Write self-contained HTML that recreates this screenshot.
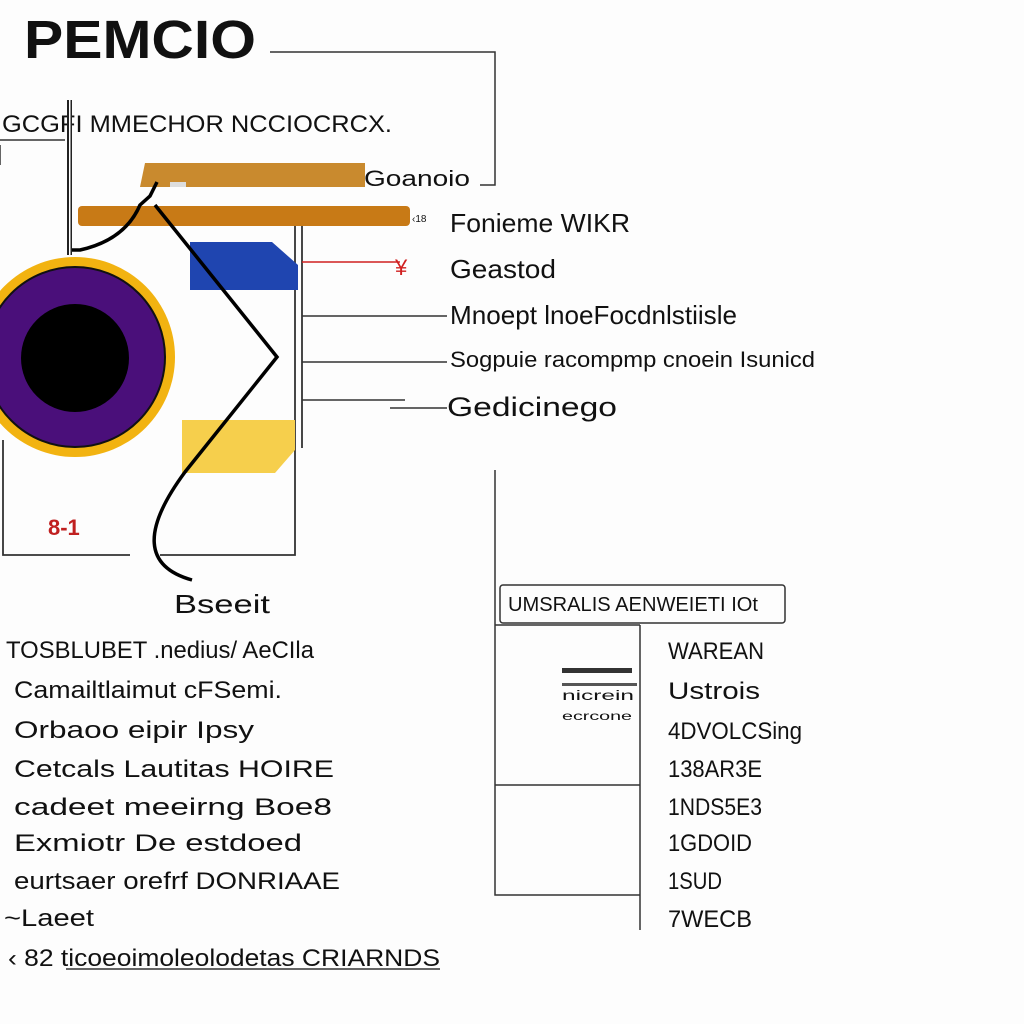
<!DOCTYPE html>
<html><head><meta charset="utf-8"><style>
html,body{margin:0;padding:0;background:#fdfdfd;}
svg{display:block}
text{font-family:"Liberation Sans",sans-serif;fill:#111}
</style></head><body>
<svg width="1024" height="1024" viewBox="0 0 1024 1024" xmlns="http://www.w3.org/2000/svg">
<rect width="1024" height="1024" fill="#fdfdfd"/>
<!-- title -->
<text x="24" y="58" font-size="54" font-weight="bold" textLength="232" lengthAdjust="spacingAndGlyphs">PEMCIO</text>
<g stroke="#333" stroke-width="1.5" fill="none">
<path d="M270 52H495V185H480"/>
<path d="M0 140H65"/>
<path d="M0 145V165"/>
</g>
<text x="2" y="132" font-size="24" textLength="390" lengthAdjust="spacingAndGlyphs">GCGFI MMECHOR NCCIOCRCX.</text>
<!-- vertical line -->
<rect x="67" y="100" width="5" height="155" fill="#222"/>
<rect x="69" y="100" width="1.5" height="155" fill="#fff"/>
<!-- orange bars -->
<path d="M145 163H365V187H140Z" fill="#c98a2e"/>
<rect x="170" y="182" width="16" height="5" fill="#ddd"/>
<rect x="78" y="206" width="332" height="20" rx="4" fill="#c87a16"/>
<text x="364" y="186" font-size="22" textLength="106" lengthAdjust="spacingAndGlyphs">Goanoio</text>
<text x="412" y="222" font-size="10" fill="#444">‹18</text>
<!-- box -->
<g stroke="#333" stroke-width="1.8" fill="none">
<path d="M295 226V555H160"/>
<path d="M130 555H3V440"/>
<path d="M302 226V448"/>
</g>
<!-- blue / yellow -->
<path d="M190 242H272L298 265V290H190Z" fill="#1f45b0"/>
<path d="M182 420H295V450L275 473H182Z" fill="#f6cf4c"/>
<!-- circle -->
<circle cx="75" cy="357" r="100" fill="#f2b311"/>
<circle cx="75" cy="357" r="90" fill="#4a0f7a" stroke="#111" stroke-width="2"/>
<circle cx="75" cy="358" r="54" fill="#000"/>
<!-- black curves -->
<g stroke="#000" stroke-width="3.5" fill="none" stroke-linejoin="miter">
<path d="M157 182L150 196L140 205Q125 240 80 250H72"/>
<path d="M155 205L277 357L185 472Q120 560 192 580"/>
</g>
<!-- connector lines -->
<line x1="302" y1="262" x2="400" y2="262" stroke="#d02020" stroke-width="1.5"/>
<text x="395" y="275" font-size="22" fill="#d02020" style="fill:#d02020">¥</text>
<g stroke="#333" stroke-width="1.5">
<line x1="302" y1="316" x2="447" y2="316"/>
<line x1="302" y1="362" x2="447" y2="362"/>
<line x1="302" y1="400" x2="405" y2="400"/>
<line x1="390" y1="408" x2="447" y2="408"/>
</g>
<!-- right labels -->
<text x="450" y="232" font-size="26" textLength="180" lengthAdjust="spacingAndGlyphs">Fonieme WIKR</text>
<text x="450" y="278" font-size="26" textLength="106" lengthAdjust="spacingAndGlyphs">Geastod</text>
<text x="450" y="324" font-size="26" textLength="287" lengthAdjust="spacingAndGlyphs">Mnoept lnoeFocdnlstiisle</text>
<text x="450" y="367" font-size="22" textLength="365" lengthAdjust="spacingAndGlyphs">Sogpuie racompmp cnoein Isunicd</text>
<text x="447" y="416" font-size="27" textLength="170" lengthAdjust="spacingAndGlyphs">Gedicinego</text>
<!-- red 8-1 -->
<text x="48" y="535" font-size="22" font-weight="bold" style="fill:#c02020">8-1</text>
<text x="174" y="613" font-size="26" textLength="96" lengthAdjust="spacingAndGlyphs">Bseeit</text>
<!-- left list -->
<g font-size="24">
<text x="6" y="658" textLength="308" lengthAdjust="spacingAndGlyphs">TOSBLUBET .nedius/ AeCIla</text>
<text x="14" y="698" textLength="268" lengthAdjust="spacingAndGlyphs">Camailtlaimut cFSemi.</text>
<text x="14" y="738" textLength="240" lengthAdjust="spacingAndGlyphs">Orbaoo  eipir Ipsy</text>
<text x="14" y="777" textLength="320" lengthAdjust="spacingAndGlyphs">Cetcals  Lautitas  HOIRE</text>
<text x="14" y="815" textLength="318" lengthAdjust="spacingAndGlyphs">cadeet  meeirng Boe8</text>
<text x="14" y="851" textLength="288" lengthAdjust="spacingAndGlyphs">Exmiotr  De estdoed</text>
<text x="14" y="889" textLength="326" lengthAdjust="spacingAndGlyphs">eurtsaer  orefrf DONRIAAE</text>
<text x="4" y="926" textLength="90" lengthAdjust="spacingAndGlyphs">~Laeet</text>
<text x="8" y="966" textLength="432" lengthAdjust="spacingAndGlyphs">‹ 82  ticoeoimoleolodetas CRIARNDS</text>
</g>
<line x1="66" y1="969" x2="440" y2="969" stroke="#333" stroke-width="1.5"/>
<!-- right table -->
<g stroke="#333" stroke-width="1.5" fill="none">
<rect x="500" y="585" width="285" height="38" rx="3"/>
<path d="M495 470V895H640"/>
<path d="M495 625H640"/>
<path d="M640 625V930"/>
<path d="M495 785H640"/>
</g>
<text x="508" y="611" font-size="20" textLength="250" lengthAdjust="spacingAndGlyphs">UMSRALIS AENWEIETI IOt</text>
<rect x="562" y="668" width="70" height="5" fill="#333"/>
<rect x="562" y="683" width="75" height="3" fill="#555"/>
<text x="562" y="700" font-size="14" textLength="72" lengthAdjust="spacingAndGlyphs">nicrein</text>
<text x="562" y="720" font-size="12" textLength="70" lengthAdjust="spacingAndGlyphs">ecrcone</text>
<g font-size="24">
<text x="668" y="659" textLength="96" lengthAdjust="spacingAndGlyphs">WAREAN</text>
<text x="668" y="699" textLength="92" lengthAdjust="spacingAndGlyphs">Ustrois</text>
<text x="668" y="739" textLength="134" lengthAdjust="spacingAndGlyphs">4DVOLCSing</text>
<text x="668" y="777" textLength="94" lengthAdjust="spacingAndGlyphs">138AR3E</text>
<text x="668" y="815" textLength="94" lengthAdjust="spacingAndGlyphs">1NDS5E3</text>
<text x="668" y="851" textLength="84" lengthAdjust="spacingAndGlyphs">1GDOID</text>
<text x="668" y="889" textLength="54" lengthAdjust="spacingAndGlyphs">1SUD</text>
<text x="668" y="927" textLength="84" lengthAdjust="spacingAndGlyphs">7WECB</text>
</g>
</svg>
</body></html>
